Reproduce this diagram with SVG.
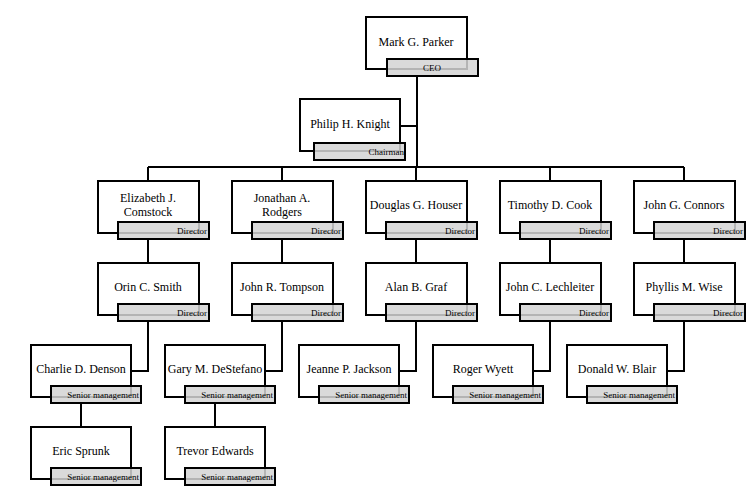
<svg xmlns="http://www.w3.org/2000/svg" width="753" height="490" viewBox="0 0 753 490">
<style>
.b{fill:#fff;stroke:#000;stroke-width:2}
.l{fill:#d3d3d3;fill-opacity:0.85;stroke:#000;stroke-width:2}
.n{font-family:"Liberation Serif",serif;font-size:12px;text-anchor:middle;fill:#000}
.t{font-family:"Liberation Serif",serif;font-size:9px;text-anchor:end;fill:#000}
.c{fill:none;stroke:#000;stroke-width:2}
</style>
<rect width="753" height="490" fill="#fff"/>
<g id="connectors">
<path class="c" d="M417 76V167M400 126H417M148 167H684M148 167V181M282 167V181M416 167V181M550 167V181M684 167V181"/>
<path class="c" d="M148 239V263M282 239V263M416 239V263M550 239V263M684 239V263"/>
<path class="c" d="M148 321V371H131M282 321V371H265M416 321V371H399M550 321V371H533M684 321V371H667"/>
<path class="c" d="M81 403V427M215 403V427"/>
</g>
<g id="ceo"><rect class="b" x="366" y="17" width="101" height="52"/><text class="n" x="416" y="46">Mark G. Parker</text><rect class="l" x="387" y="59" width="91" height="17"/><text class="t" x="432" y="71" style="text-anchor:middle">CEO</text></g>
<g id="chair"><rect class="b" x="300" y="99" width="100" height="52"/><text class="n" x="350" y="128">Philip H. Knight</text><rect class="l" x="314" y="143" width="91" height="17"/><text class="t" x="404" y="155">Chairman</text></g>
<g id="d1"><rect class="b" x="98" y="181" width="101" height="52"/><text class="n" x="148" y="202">Elizabeth J.</text><text class="n" x="148" y="215.5">Comstock</text><rect class="l" x="118" y="222" width="91" height="17"/><text class="t" x="207" y="234">Director</text></g>
<g id="d2"><rect class="b" x="232" y="181" width="101" height="52"/><text class="n" x="282" y="202">Jonathan A.</text><text class="n" x="282" y="215.5">Rodgers</text><rect class="l" x="252" y="222" width="91" height="17"/><text class="t" x="341" y="234">Director</text></g>
<g id="d3"><rect class="b" x="366" y="181" width="101" height="52"/><text class="n" x="416" y="209">Douglas G. Houser</text><rect class="l" x="386" y="222" width="91" height="17"/><text class="t" x="475" y="234">Director</text></g>
<g id="d4"><rect class="b" x="500" y="181" width="101" height="52"/><text class="n" x="550" y="209">Timothy D. Cook</text><rect class="l" x="520" y="222" width="91" height="17"/><text class="t" x="609" y="234">Director</text></g>
<g id="d5"><rect class="b" x="634" y="181" width="101" height="52"/><text class="n" x="684" y="209">John G. Connors</text><rect class="l" x="654" y="222" width="91" height="17"/><text class="t" x="743" y="234">Director</text></g>
<g id="e1"><rect class="b" x="98" y="263" width="101" height="52"/><text class="n" x="148" y="291">Orin C. Smith</text><rect class="l" x="118" y="304" width="91" height="17"/><text class="t" x="207" y="316">Director</text></g>
<g id="e2"><rect class="b" x="232" y="263" width="101" height="52"/><text class="n" x="282" y="291">John R. Tompson</text><rect class="l" x="252" y="304" width="91" height="17"/><text class="t" x="341" y="316">Director</text></g>
<g id="e3"><rect class="b" x="366" y="263" width="101" height="52"/><text class="n" x="416" y="291">Alan B. Graf</text><rect class="l" x="386" y="304" width="91" height="17"/><text class="t" x="475" y="316">Director</text></g>
<g id="e4"><rect class="b" x="500" y="263" width="101" height="52"/><text class="n" x="550" y="291">John C. Lechleiter</text><rect class="l" x="520" y="304" width="91" height="17"/><text class="t" x="609" y="316">Director</text></g>
<g id="e5"><rect class="b" x="634" y="263" width="101" height="52"/><text class="n" x="684" y="291">Phyllis M. Wise</text><rect class="l" x="654" y="304" width="91" height="17"/><text class="t" x="743" y="316">Director</text></g>
<g id="f1"><rect class="b" x="31" y="345" width="100" height="52"/><text class="n" x="81" y="373">Charlie D. Denson</text><rect class="l" x="51" y="386" width="90" height="17"/><text class="t" x="139" y="398">Senior management</text></g>
<g id="f2"><rect class="b" x="165" y="345" width="100" height="52"/><text class="n" x="215" y="373">Gary M. DeStefano</text><rect class="l" x="185" y="386" width="90" height="17"/><text class="t" x="273" y="398">Senior management</text></g>
<g id="f3"><rect class="b" x="299" y="345" width="100" height="52"/><text class="n" x="349" y="373">Jeanne P. Jackson</text><rect class="l" x="319" y="386" width="90" height="17"/><text class="t" x="407" y="398">Senior management</text></g>
<g id="f4"><rect class="b" x="433" y="345" width="100" height="52"/><text class="n" x="483" y="373">Roger Wyett</text><rect class="l" x="453" y="386" width="90" height="17"/><text class="t" x="541" y="398">Senior management</text></g>
<g id="f5"><rect class="b" x="567" y="345" width="100" height="52"/><text class="n" x="617" y="373">Donald W. Blair</text><rect class="l" x="587" y="386" width="90" height="17"/><text class="t" x="675" y="398">Senior management</text></g>
<g id="g1"><rect class="b" x="31" y="427" width="100" height="52"/><text class="n" x="81" y="455">Eric Sprunk</text><rect class="l" x="51" y="468" width="90" height="17"/><text class="t" x="139" y="480">Senior management</text></g>
<g id="g2"><rect class="b" x="165" y="427" width="100" height="52"/><text class="n" x="215" y="455">Trevor Edwards</text><rect class="l" x="185" y="468" width="90" height="17"/><text class="t" x="273" y="480">Senior management</text></g>
</svg>
